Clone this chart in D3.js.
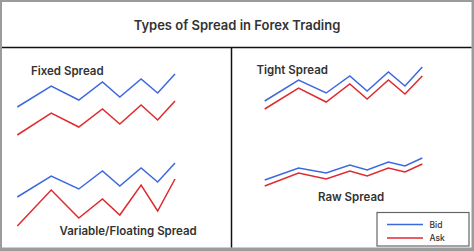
<!DOCTYPE html>
<html><head><meta charset="utf-8">
<script src="https://cdn.jsdelivr.net/npm/d3@7"></script>
<style>html,body{margin:0;padding:0;background:#9b9b9b;overflow:hidden}</style>
</head><body>
<script>
// time points (relative)
const times = [0, 21.5, 39, 54, 65, 78.5, 89, 100];
// price values (arbitrary units) per panel
const fixedBid    = [33, 54, 40, 58, 43, 61, 47, 66];
const fixedAsk    = [5, 27, 13, 31, 16, 35, 20, 39];
const tightBid    = [39, 60, 47, 64, 49, 68, 54, 73];
const tightAsk    = [31, 52, 38, 56, 41, 60, 46, 64];
const variableBid = [33, 54, 41, 59, 44, 62, 48, 67];
const variableAsk = [4, 40, 12, 31, 15, 45, 19, 51];
const rawBid      = [50, 62, 57, 65, 60, 68, 64, 72];
const rawAsk      = [44, 57, 51, 59, 54, 62, 58, 66];
const panelTitles = ["Fixed Spread", "Tight Spread", "Variable/Floating Spread", "Raw Spread"];
const legendLabels = ["Bid", "Ask"];
const title = "Types of Spread in Forex Trading";

const W = 474, H = 251;
const BLUE = "#3d68e0", RED = "#e02a2f";
const svg = d3.select("body").append("svg").attr("width", W).attr("height", H);
const font = "Inter, 'Noto Sans', sans-serif";

svg.append("rect").attr("x", 0).attr("y", 0).attr("width", W).attr("height", H).attr("fill", "#9b9b9b");
svg.append("rect").attr("x", 2).attr("y", 2).attr("width", 469.5).attr("height", 245.5).attr("fill", "#fff");
svg.append("line").attr("x1", 2).attr("x2", 471.5).attr("y1", 47.5).attr("y2", 47.5).attr("stroke", "#111").attr("stroke-width", 1.5);
svg.append("line").attr("x1", 231.5).attr("x2", 231.5).attr("y1", 47.5).attr("y2", 247.5).attr("stroke", "#111").attr("stroke-width", 1.5);

svg.append("text").attr("x", 237).attr("y", 29.5).attr("text-anchor", "middle")
  .attr("font-family", font).attr("font-weight", 600).attr("font-size", 13).attr("fill", "#333").text(title);

const panels = [
  {x0: 17.3, x1: 175, base: 140, bid: fixedBid, ask: fixedAsk, label: panelTitles[0], lx: 31, ly: 75, anchor: "start"},
  {x0: 264.7, x1: 422.3, base: 140, bid: tightBid, ask: tightAsk, label: panelTitles[1], lx: 256.5, ly: 74, anchor: "start"},
  {x0: 17.3, x1: 175, base: 230, bid: variableBid, ask: variableAsk, label: panelTitles[2], lx: 59.5, ly: 235, anchor: "start"},
  {x0: 264.7, x1: 422.3, base: 230, bid: rawBid, ask: rawAsk, label: panelTitles[3], lx: 318, ly: 200.5, anchor: "start"}
];

panels.forEach(p => {
  const x = d3.scaleLinear().domain([0, 100]).range([p.x0, p.x1]);
  const y = d3.scaleLinear().domain([0, 100]).range([p.base, p.base - 100]);
  const line = d3.line().x((d, i) => x(times[i])).y(d => y(d));
  svg.append("path").datum(p.bid).attr("d", line).attr("fill", "none").attr("stroke", BLUE).attr("stroke-width", 1.5).attr("stroke-linejoin", "miter");
  svg.append("path").datum(p.ask).attr("d", line).attr("fill", "none").attr("stroke", RED).attr("stroke-width", 1.5).attr("stroke-linejoin", "miter");
  svg.append("text").attr("x", p.lx).attr("y", p.ly).attr("text-anchor", p.anchor)
    .attr("font-family", font).attr("font-weight", 600).attr("font-size", 11.5).attr("fill", "#333").text(p.label);
});

// legend
const lg = svg.append("g");
lg.append("rect").attr("x", 377).attr("y", 212.5).attr("width", 92).attr("height", 33.5)
  .attr("fill", "#fff").attr("stroke", "#666").attr("stroke-width", 1.2);
[BLUE, RED].forEach((c, i) => {
  const yy = 224.5 + i * 13.5;
  lg.append("line").attr("x1", 387).attr("x2", 423).attr("y1", yy).attr("y2", yy).attr("stroke", c).attr("stroke-width", 1.5);
  lg.append("text").attr("x", 429.5).attr("y", yy + 3).attr("font-family", font).attr("font-weight", 500)
    .attr("font-size", 8.5).attr("fill", "#333").text(legendLabels[i]);
});
</script>
</body></html>
